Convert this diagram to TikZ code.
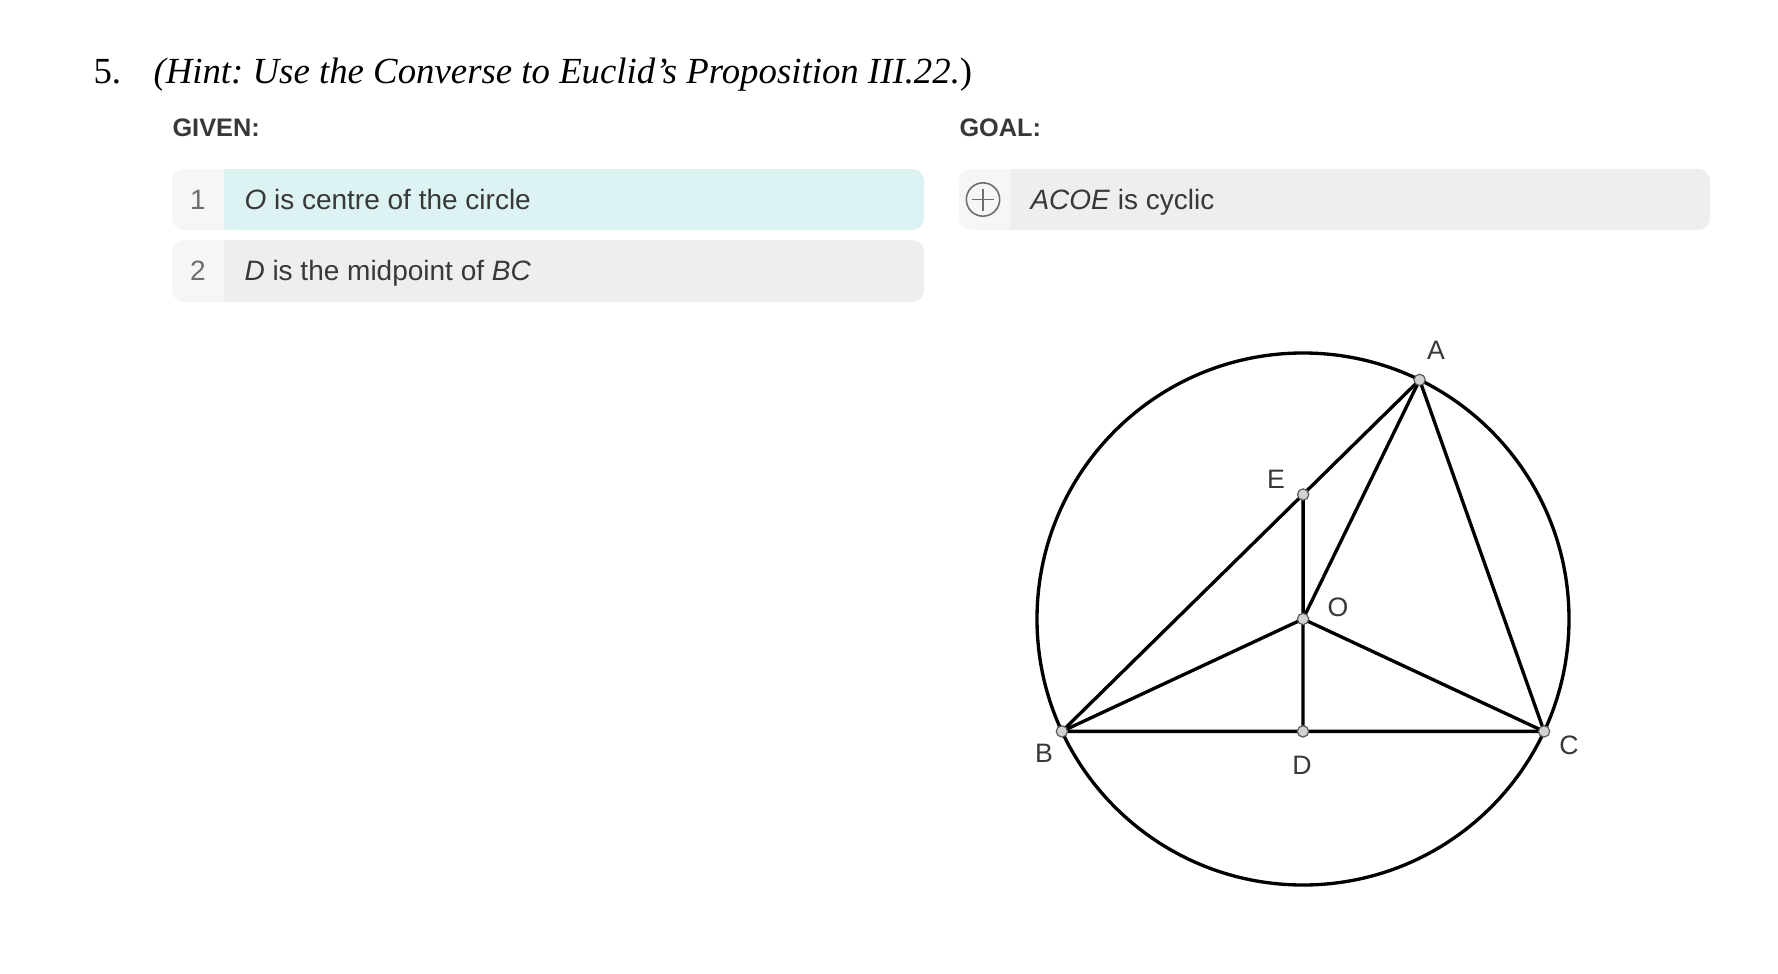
\documentclass[tikz,border=0pt]{standalone}
\usepackage{fontspec}
\setmainfont{Liberation Serif}
\setsansfont{Liberation Sans}
\usetikzlibrary{calc}
\definecolor{hintcyan}{HTML}{DCF2F3}
\definecolor{rowgray}{HTML}{EEEEEE}
\definecolor{tabgray}{HTML}{F6F6F6}
\definecolor{inkgray}{HTML}{383838}
\definecolor{numgray}{HTML}{6E6E6E}
\definecolor{ptfill}{HTML}{D2D2D2}
\definecolor{ptline}{HTML}{5A5A5A}
\tikzset{every picture/.style={line width=0.75pt}}
\tikzset{
  pt/.style={circle,fill=ptfill,draw=ptline,line width=0.9pt,inner sep=0pt,minimum size=8.5pt},
  ptlabel/.style={font=\sffamily\fontsize{20}{20}\selectfont,text=inkgray,inner sep=0pt},
  rowtext/.style={anchor=base west,font=\sffamily\fontsize{21}{21}\selectfont,text=inkgray,inner sep=0pt},
  rownum/.style={anchor=base,font=\sffamily\fontsize{21}{21}\selectfont,text=numgray,inner sep=0pt},
  head/.style={anchor=base west,font=\sffamily\bfseries\fontsize{19}{19}\selectfont,text=inkgray,inner sep=0pt},
  seg/.style={line width=2.5pt}
}

\begin{document}
\begin{tikzpicture}[x=0.75pt,y=0.75pt,yscale=-1,xscale=1]
    \useasboundingbox (0,0) rectangle (1778,974);

    %Text: exercise line
    \node[anchor=base west,inner sep=0pt,font=\fontsize{27.6}{27.6}\selectfont] (num) at (93,84) {5.};
    \node[anchor=base west,inner sep=0pt,font=\fontsize{27.6}{27.6}\selectfont] (hint) at (153,84) {\frenchspacing\textit{(Hint: Use the Converse to Euclid’s Proposition III.22.})};

    %Text: headers
    \node[head] (given) at (172,137) {GIVEN:};
    \node[head] (goal) at (959,137) {GOAL:};

    %Shape: given row 1
    \fill[tabgray,rounded corners=9pt] (172,169) rectangle (924,230);
    \fill[hintcyan,rounded corners=9pt] (224,169) rectangle (924,230);
    \fill[hintcyan] (224,169) rectangle (250,230);
    \node[rownum] (n1) at (198,209) {1};
    \node[rowtext] (g1) at (244,209) {\textit{O} is centre of the circle};

    %Shape: given row 2
    \fill[tabgray,rounded corners=9pt] (172,240) rectangle (924,302);
    \fill[rowgray,rounded corners=9pt] (224,240) rectangle (924,302);
    \fill[rowgray] (224,240) rectangle (250,302);
    \node[rownum] (n2) at (198,280) {2};
    \node[rowtext] (g2) at (244,280) {\textit{D} is the midpoint of \textit{BC}};

    %Shape: goal row
    \fill[tabgray,rounded corners=9pt] (959,169) rectangle (1710,230);
    \fill[rowgray,rounded corners=9pt] (1010,169) rectangle (1710,230);
    \fill[rowgray] (1010,169) rectangle (1036,230);
    \node[circle,draw=numgray,line width=1.2pt,minimum size=25pt,inner sep=0pt] (plus) at (983,199.5) {};
    \draw[numgray,line width=1.2pt] ($(plus.center)+(-11,0)$) -- ($(plus.center)+(11,0)$) ($(plus.center)+(0,-11)$) -- ($(plus.center)+(0,11)$);
    \node[rowtext] (goaltext) at (1030,209) {\textit{ACOE} is cyclic};

    %Points
    \coordinate (O) at (1303,619);
    \coordinate (A) at (1419.6,379.9);
    \coordinate (B) at (1061.9,731.4);
    \coordinate (C) at (1544.1,731.4);
    \coordinate (D) at ($(B)!0.5!(C)$);
    \coordinate (E) at (intersection of B--A and O--D);

    %Shape: circle
    \draw[seg] (O) circle [radius=266];
    %Straight Lines
    \draw[seg] (B) -- (A) -- (C) -- cycle;
    \draw[seg] (A) -- (O);
    \draw[seg] (B) -- (O) -- (C);
    \draw[seg] (E) -- (D);

    \node[pt] (pA) at (A) {};
    \node[pt] (pB) at (B) {};
    \node[pt] (pC) at (C) {};
    \node[pt] (pD) at (D) {};
    \node[pt] (pE) at (E) {};
    \node[pt] (pO) at (O) {};

    \node[ptlabel] (lA) at (1436,350) {A};
    \node[ptlabel] (lE) at (1276,479) {E};
    \node[ptlabel] (lO) at (1338,607) {O};
    \node[ptlabel] (lB) at (1044,753) {B};
    \node[ptlabel] (lC) at (1569,745) {C};
    \node[ptlabel] (lD) at (1302,765) {D};

\end{tikzpicture}
\end{document}
